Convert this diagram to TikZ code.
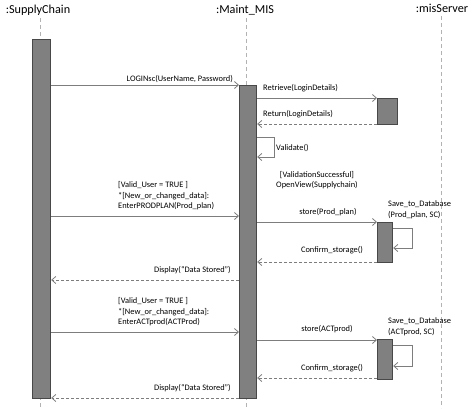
\documentclass[tikz,border=0pt]{standalone}
\usepackage{fontspec}
\setmainfont{Carlito}
\usetikzlibrary{arrows.meta}
\definecolor{barfill}{RGB}{128,128,128}
\definecolor{barline}{RGB}{72,72,72}
\definecolor{msgline}{RGB}{125,125,125}
\tikzset{
	actbar/.style={draw=barline, line width=1.2pt, fill=barfill, inner sep=0pt, anchor=north west},
	msg/.style={draw=msgline, line width=0.8pt, -{Straight Barb[length=4pt,width=7pt]}},
	reply/.style={msg, dash pattern=on 3pt off 2pt},
	lifeline/.style={draw=gray!60, line width=0.6pt, dash pattern=on 4pt off 3pt},
	lbl/.style={font=\fontsize{8.4}{10.5}\selectfont, inner sep=0pt, align=left},
	head/.style={font=\fontsize{12.2}{14}\selectfont, inner sep=0pt}
}
\def\selfcall(#1,#2,#3,#4){\draw[msg] (#1.east |- 0,#2) -| (#3,#4) -- (#1.east |- 0,#4);}

\begin{document}
\begin{tikzpicture}[x=1pt, y=-1pt]
	%%%%% START %%%%%
	\useasboundingbox (0,0) rectangle (474,408);
	
	\node[head] (scHead) at (38,10) {:SupplyChain};
	\node[head] (mainHead) at (245,10) {:Maint\_MIS};
	\node[head] (srvHead) at (442,8) {:misServer};
	
	\draw[lifeline] (40,18) -- (40,408);
	\draw[lifeline] (246,18) -- (246,408);
	\draw[lifeline] (441,16) -- (441,408);
	
	\node[actbar, minimum width=18pt, minimum height=359pt] (scBar) at (32,39) {};
	\node[actbar, minimum width=17pt, minimum height=313pt] (mainBar) at (239,85) {};
	\node[actbar, minimum width=20pt, minimum height=26pt] (srvBarA) at (377,98) {};
	\node[actbar, minimum width=15pt, minimum height=40pt] (srvBarB) at (377,222) {};
	\node[actbar, minimum width=15pt, minimum height=40pt] (srvBarC) at (377,339) {};
	
	% login
	\draw[msg] (scBar.east |- 0,85) -- (mainBar.west |- 0,85);
	\node[lbl, anchor=east] at (233,79) {LOGINsc(UserName, Password)};
	\draw[msg] (mainBar.east |- 0,98) -- (srvBarA.west |- 0,98);
	\node[lbl, anchor=west] at (263,88) {Retrieve(LoginDetails)};
	\draw[reply] (srvBarA.west |- 0,124) -- (mainBar.east |- 0,124);
	\node[lbl, anchor=west] at (263,114) {Return(LoginDetails)};
	\selfcall(mainBar,137,274,157)
	\node[lbl, anchor=west] at (276,148) {Validate()};
	\node[lbl, align=center] at (317,180) {[ValidationSuccessful]\\OpenView(Supplychain)};
	
	% production plan
	\draw[msg] (scBar.east |- 0,216) -- (mainBar.west |- 0,216);
	\node[lbl, anchor=west] at (118,196) {[Valid\_User = TRUE ]\\*[New\_or\_changed\_data]:\\EnterPRODPLAN(Prod\_plan)};
	\draw[msg] (mainBar.east |- 0,222) -- (srvBarB.west |- 0,222);
	\node[lbl] at (328,212) {store(Prod\_plan)};
	\node[lbl, anchor=west] at (388,210) {Save\_to\_Database\\(Prod\_plan, SC)};
	\selfcall(srvBarB,228,412,248)
	\draw[reply] (srvBarB.west |- 0,262) -- (mainBar.east |- 0,262);
	\node[lbl] at (332,250) {Confirm\_storage()};
	\draw[reply] (mainBar.west |- 0,280) -- (scBar.east |- 0,280);
	\node[lbl, anchor=east] at (231,270) {Display(“Data Stored”)};
	
	% actual production
	\draw[msg] (scBar.east |- 0,332) -- (mainBar.west |- 0,332);
	\node[lbl, anchor=west] at (118,312) {[Valid\_User = TRUE ]\\*[New\_or\_changed\_data]:\\EnterACTprod(ACTProd)};
	\draw[msg] (mainBar.east |- 0,340) -- (srvBarC.west |- 0,340);
	\node[lbl] at (327,329) {store(ACTprod)};
	\node[lbl, anchor=west] at (388,327) {Save\_to\_Database\\(ACTprod, SC)};
	\selfcall(srvBarC,345,412,366)
	\draw[reply] (srvBarC.west |- 0,378) -- (mainBar.east |- 0,378);
	\node[lbl] at (332,368) {Confirm\_storage()};
	\draw[reply] (mainBar.west |- 0,398) -- (scBar.east |- 0,398);
	\node[lbl, anchor=east] at (231,388) {Display(“Data Stored”)};
	%%%%% END %%%%%
\end{tikzpicture}
\end{document}
